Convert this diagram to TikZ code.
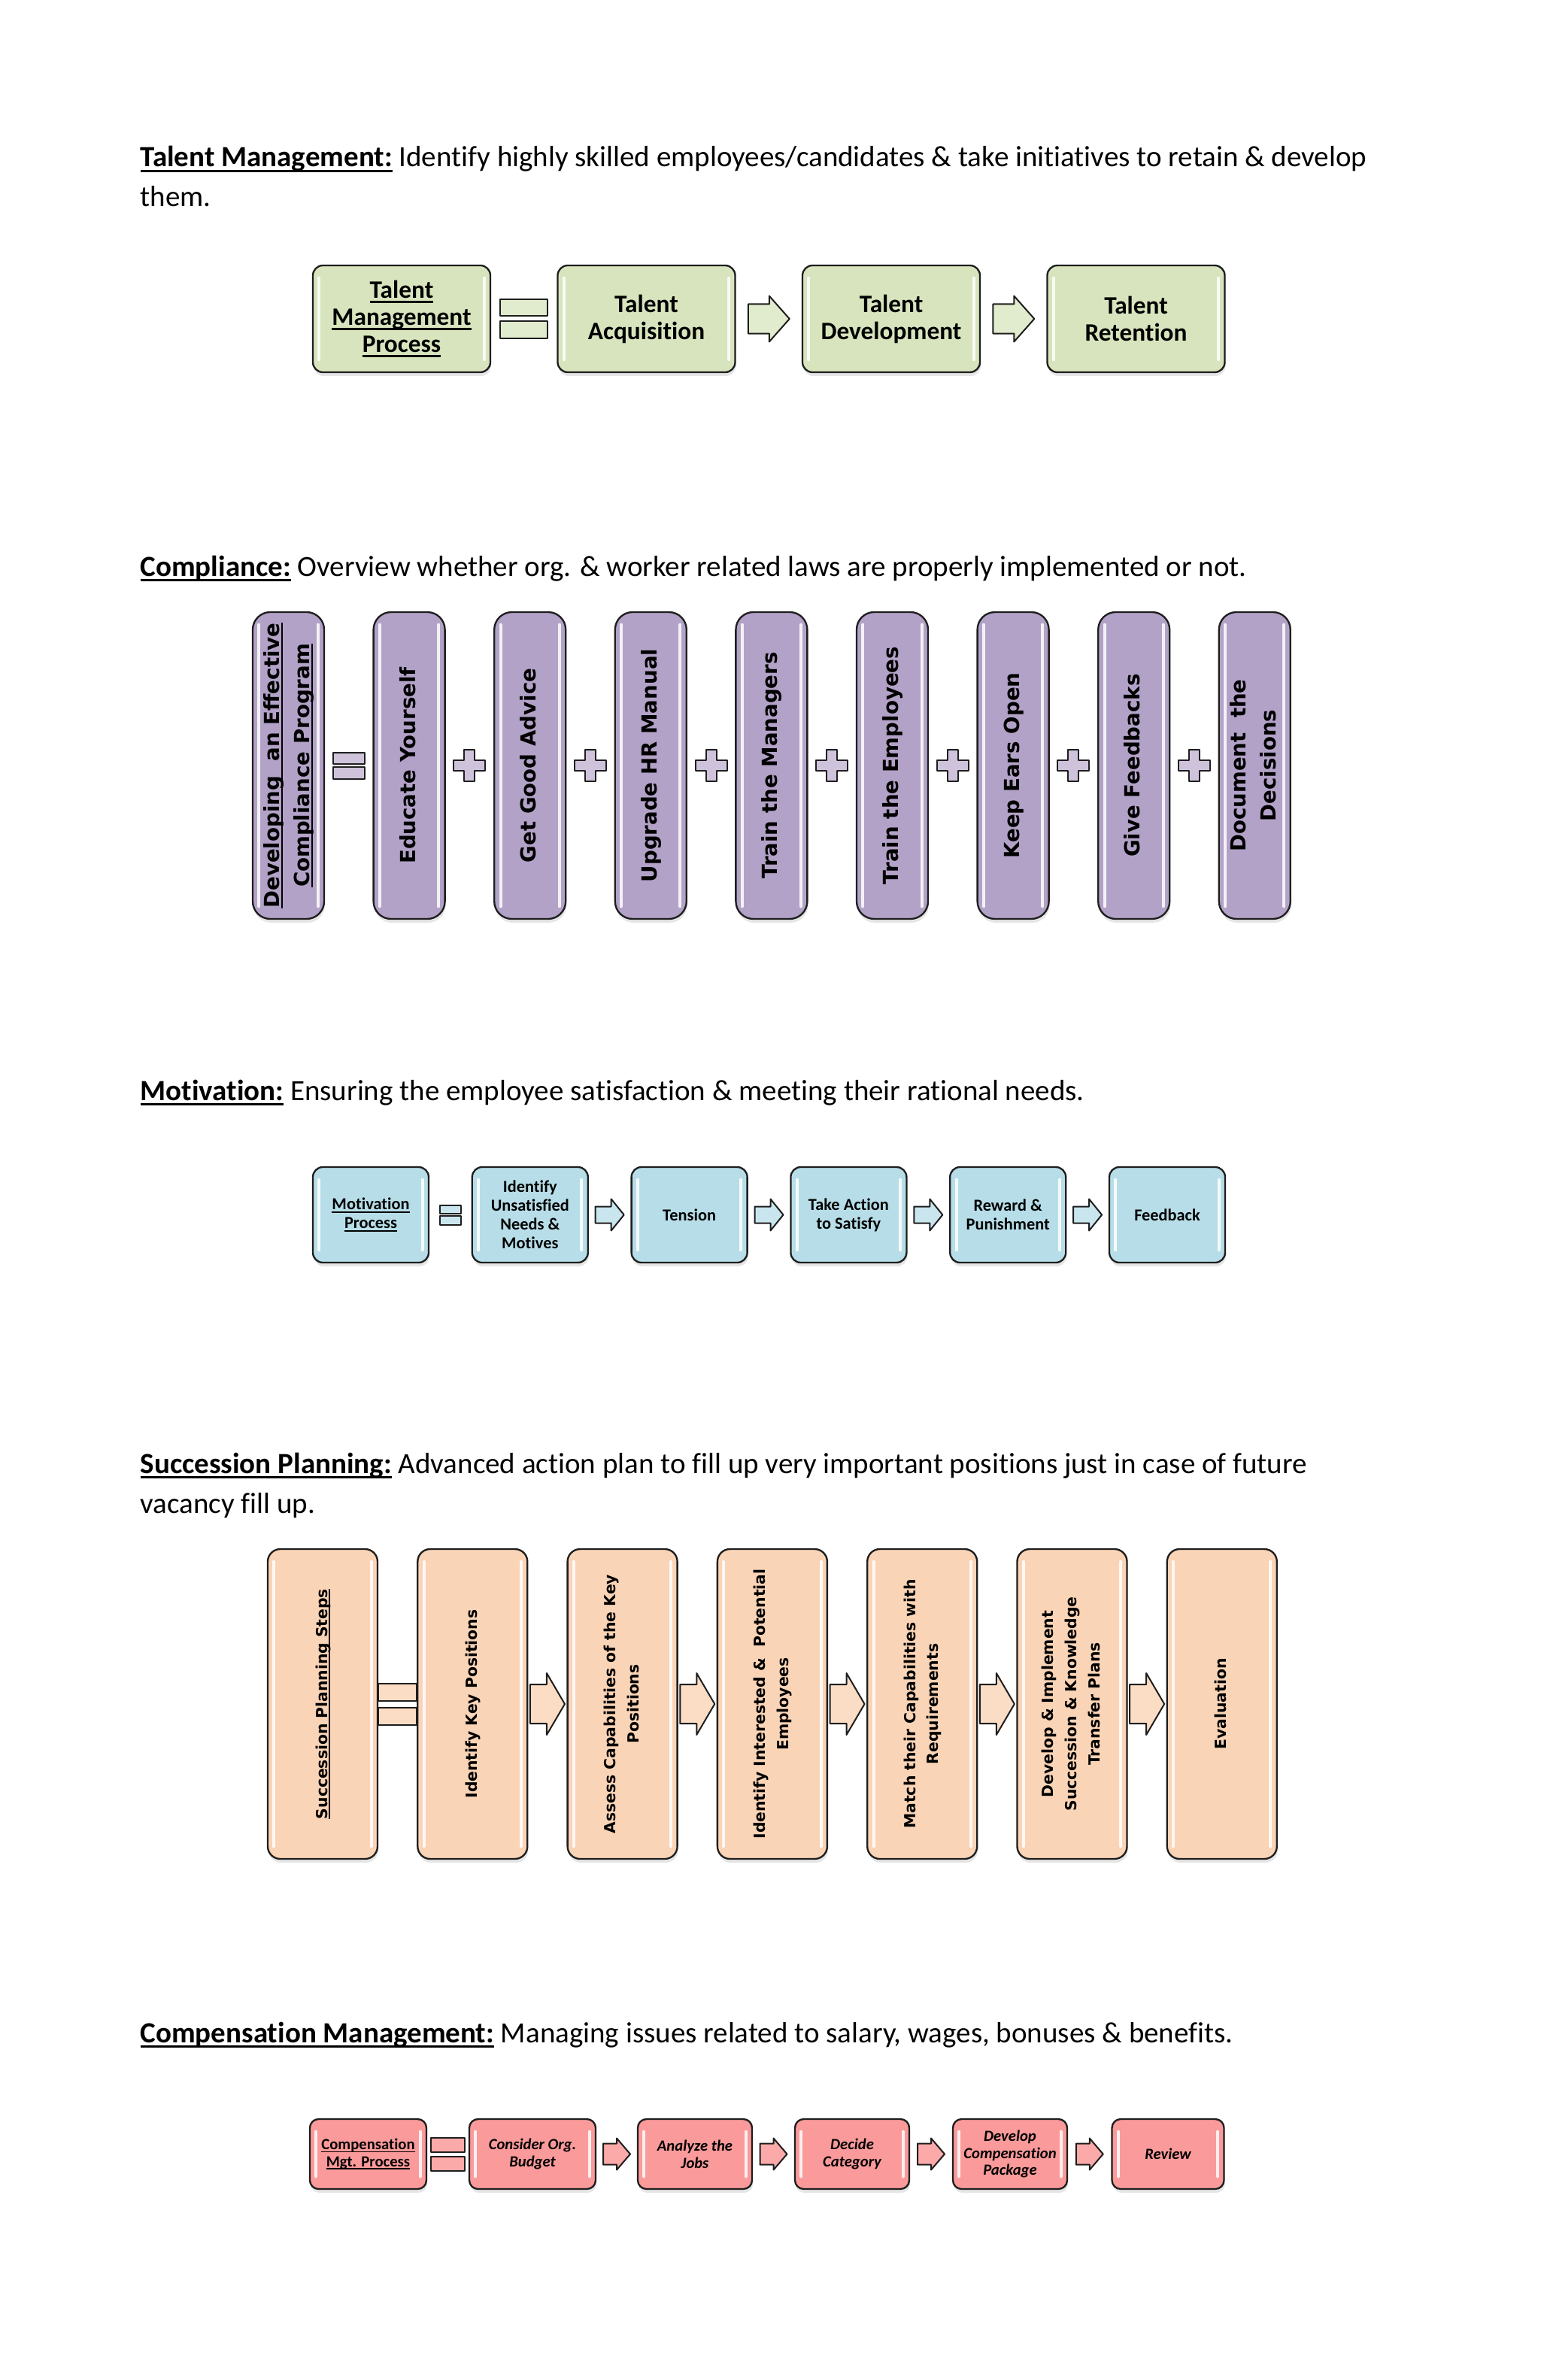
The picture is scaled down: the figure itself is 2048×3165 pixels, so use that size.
\documentclass[tikz,border=0pt]{standalone}
\usepackage{fontspec}
\setmainfont{Carlito}[Ligatures=NoCommon]
\newfontfamily\verdfont{DejaVu Sans}
\usepackage{graphicx}
\usepackage{tikz}
\usetikzlibrary{calc,shadows}

\definecolor{tmgreen}{HTML}{D7E4BD}
\definecolor{cppurple}{HTML}{B3A2C7}
\definecolor{mvblue}{HTML}{B7DEE8}
\definecolor{sppeach}{HTML}{FAD4B6}
\definecolor{cmpink}{HTML}{FA9A9A}
\definecolor{edgegray}{HTML}{1E1E1E}

\newcommand{\ulin}[1]{\setbox0\hbox{#1}\rlap{\rule[-0.17em]{\wd0}{0.07em}}\box0\relax}
\newcommand{\sidetext}[1]{\rotatebox{90}{\begin{tabular}{@{}c@{}}#1\end{tabular}}}

\tikzset{
  headtext/.style={anchor=base west, inner sep=0pt, font=\fontsize{11.7}{14}\selectfont},
  gloss/.style={draw=edgegray, line width=0.7pt, inner sep=0pt, align=center,
    drop shadow={opacity=0.2, shadow xshift=0.3pt, shadow yshift=-1.5pt},
    path picture={
      \draw[white, line width=1.2pt, opacity=0.85, line cap=round]
        ([xshift=2.5pt,yshift=-5pt]path picture bounding box.north west) -- ([xshift=2.5pt,yshift=5pt]path picture bounding box.south west)
        ([xshift=-2.5pt,yshift=-5pt]path picture bounding box.north east) -- ([xshift=-2.5pt,yshift=5pt]path picture bounding box.south east);
    }},
  tmbox/.style={gloss, fill=tmgreen, rounded corners=4pt, minimum width=70.8pt, minimum height=42.6pt,
    font=\fontsize{10}{10.8}\selectfont\bfseries},
  cpbox/.style={gloss, fill=cppurple, rounded corners=7pt, minimum width=28.5pt, minimum height=122.4pt,
    font=\verdfont\bfseries\fontsize{8.3}{12}\selectfont},
  mvbox/.style={gloss, fill=mvblue, rounded corners=4pt, minimum width=46.2pt, minimum height=38.1pt,
    font=\fontsize{6.7}{7.5}\selectfont\bfseries},
  spbox/.style={gloss, fill=sppeach, rounded corners=5pt, minimum width=43.8pt, minimum height=123.6pt,
    font=\verdfont\bfseries\fontsize{6.1}{9.2}\selectfont},
  cmbox/.style={gloss, fill=cmpink, rounded corners=3.5pt, minimum width=45.6pt, minimum height=27.9pt,
    font=\fontsize{6.2}{6.8}\selectfont\bfseries\itshape},
  link/.style={draw=edgegray, line width=0.6pt, line join=round},
  tmlink/.style={link, fill=tmgreen!75!white},
  cplink/.style={link, fill=cppurple!65!white},
  mvlink/.style={link, fill=mvblue!75!white},
  splink/.style={link, fill=sppeach!80!white},
  cmlink/.style={link, fill=cmpink!85!white},
}

\begin{document}
\begin{tikzpicture}[x=0.3pt,y=0.3pt,yscale=-1,xscale=1]
\useasboundingbox (0,0) rectangle (2048,3165);
\fill[white] (0,0) rectangle (2048,3165);

%%%%%%%% Talent Management
% Text Node
\node[headtext] (tmHead) at (186,222) {\ulin{\textbf{Talent Management:}} Identify highly skilled employees/candidates \& take initiatives to retain \& develop};
% Text Node
\node[headtext] (tmHeadB) at (186,275) {them.};
%Shape: Rounded Rect
\node[tmbox] (tm1) at (534,424) {\ulin{Talent}\\\ulin{Management}\\\ulin{Process}};
\node[tmbox] (tm2) at (859.5,424) {Talent\\Acquisition};
\node[tmbox] (tm3) at (1185,424) {Talent\\Development};
\node[tmbox] (tm4) at (1510.5,424) {Talent\\Retention};
%Shape: Equal
\coordinate (tmEq) at ($(tm1.east)!.5!(tm2.west)$);
\draw[tmlink] ($(tmEq)+(-31.5,-25.5)$) rectangle ($(tmEq)+(31.5,-3.5)$);
\draw[tmlink] ($(tmEq)+(-31.5,3.5)$) rectangle ($(tmEq)+(31.5,25.5)$);
%Shape: Right Arrow
\coordinate (tmA1) at ($(tm2.east)!.5!(tm3.west)$);
\draw[tmlink] (tmA1) ++(-27.5,-19.5) -- ++(28,0) -- ++(0,-11) -- ++(27,30.5) -- ++(-27,30.5) -- ++(0,-11) -- ++(-28,0) -- cycle;
\coordinate (tmA2) at ($(tm3.east)!.5!(tm4.west)$);
\draw[tmlink] (tmA2) ++(-27.5,-19.5) -- ++(28,0) -- ++(0,-11) -- ++(27,30.5) -- ++(-27,30.5) -- ++(0,-11) -- ++(-28,0) -- cycle;

%%%%%%%% Compliance
% Text Node
\node[headtext] (cpHead) at (186,766) {\ulin{\textbf{Compliance:}} Overview whether org. \& worker related laws are properly implemented or not.};
%Shape: Rounded Rect
\node[cpbox] (cp1) at (383.5,1018) {\sidetext{\ulin{Developing\ \ an Effective}\\\ulin{Compliance Program}}};
\node[cpbox] (cp2) at (544.1,1018) {\sidetext{Educate Yourself}};
\node[cpbox] (cp3) at (704.7,1018) {\sidetext{Get Good Advice}};
\node[cpbox] (cp4) at (865.3,1018) {\sidetext{Upgrade HR Manual}};
\node[cpbox] (cp5) at (1025.9,1018) {\sidetext{Train the Managers}};
\node[cpbox] (cp6) at (1186.5,1018) {\sidetext{Train the Employees}};
\node[cpbox] (cp7) at (1347.1,1018) {\sidetext{Keep Ears Open}};
\node[cpbox] (cp8) at (1507.7,1018) {\sidetext{Give Feedbacks}};
\node[cpbox] (cp9) at (1668.3,1018) {\sidetext{Document\ \ the\\Decisions}};
%Shape: Equal
\coordinate (cpEq) at ($(cp1.east)!.5!(cp2.west)$);
\draw[cplink] ($(cpEq)+(-21,-17.5)$) rectangle ($(cpEq)+(21,-2)$);
\draw[cplink] ($(cpEq)+(-21,2)$) rectangle ($(cpEq)+(21,17.5)$);
%Shape: Plus
\coordinate (cpP1) at ($(cp2.east)!.5!(cp3.west)$);
\draw[cplink] (cpP1) ++(-7,-21) -- ++(14,0) -- ++(0,14) -- ++(14,0) -- ++(0,14) -- ++(-14,0) -- ++(0,14) -- ++(-14,0) -- ++(0,-14) -- ++(-14,0) -- ++(0,-14) -- ++(14,0) -- cycle;
\coordinate (cpP2) at ($(cp3.east)!.5!(cp4.west)$);
\draw[cplink] (cpP2) ++(-7,-21) -- ++(14,0) -- ++(0,14) -- ++(14,0) -- ++(0,14) -- ++(-14,0) -- ++(0,14) -- ++(-14,0) -- ++(0,-14) -- ++(-14,0) -- ++(0,-14) -- ++(14,0) -- cycle;
\coordinate (cpP3) at ($(cp4.east)!.5!(cp5.west)$);
\draw[cplink] (cpP3) ++(-7,-21) -- ++(14,0) -- ++(0,14) -- ++(14,0) -- ++(0,14) -- ++(-14,0) -- ++(0,14) -- ++(-14,0) -- ++(0,-14) -- ++(-14,0) -- ++(0,-14) -- ++(14,0) -- cycle;
\coordinate (cpP4) at ($(cp5.east)!.5!(cp6.west)$);
\draw[cplink] (cpP4) ++(-7,-21) -- ++(14,0) -- ++(0,14) -- ++(14,0) -- ++(0,14) -- ++(-14,0) -- ++(0,14) -- ++(-14,0) -- ++(0,-14) -- ++(-14,0) -- ++(0,-14) -- ++(14,0) -- cycle;
\coordinate (cpP5) at ($(cp6.east)!.5!(cp7.west)$);
\draw[cplink] (cpP5) ++(-7,-21) -- ++(14,0) -- ++(0,14) -- ++(14,0) -- ++(0,14) -- ++(-14,0) -- ++(0,14) -- ++(-14,0) -- ++(0,-14) -- ++(-14,0) -- ++(0,-14) -- ++(14,0) -- cycle;
\coordinate (cpP6) at ($(cp7.east)!.5!(cp8.west)$);
\draw[cplink] (cpP6) ++(-7,-21) -- ++(14,0) -- ++(0,14) -- ++(14,0) -- ++(0,14) -- ++(-14,0) -- ++(0,14) -- ++(-14,0) -- ++(0,-14) -- ++(-14,0) -- ++(0,-14) -- ++(14,0) -- cycle;
\coordinate (cpP7) at ($(cp8.east)!.5!(cp9.west)$);
\draw[cplink] (cpP7) ++(-7,-21) -- ++(14,0) -- ++(0,14) -- ++(14,0) -- ++(0,14) -- ++(-14,0) -- ++(0,14) -- ++(-14,0) -- ++(0,-14) -- ++(-14,0) -- ++(0,-14) -- ++(14,0) -- cycle;

%%%%%%%% Motivation
% Text Node
\node[headtext] (mvHead) at (186,1463) {\ulin{\textbf{Motivation:}} Ensuring the employee satisfaction \& meeting their rational needs.};
%Shape: Rounded Rect
\node[mvbox] (mv1) at (493,1615.5) {\ulin{Motivation}\\\ulin{Process}};
\node[mvbox] (mv2) at (704.8,1615.5) {Identify\\Unsatisfied\\Needs \&\\Motives};
\node[mvbox] (mv3) at (916.6,1615.5) {Tension};
\node[mvbox] (mv4) at (1128.4,1615.5) {Take Action\\to Satisfy};
\node[mvbox] (mv5) at (1340.2,1615.5) {Reward \&\\Punishment};
\node[mvbox] (mv6) at (1552,1615.5) {Feedback};
%Shape: Equal
\coordinate (mvEq) at ($(mv1.east)!.5!(mv2.west)$);
\draw[mvlink] ($(mvEq)+(-14,-13)$) rectangle ($(mvEq)+(14,-1.5)$);
\draw[mvlink] ($(mvEq)+(-14,1.5)$) rectangle ($(mvEq)+(14,13)$);
%Shape: Right Arrow
\coordinate (mvA1) at ($(mv2.east)!.5!(mv3.west)$);
\draw[mvlink] (mvA1) ++(-19,-11) -- ++(21,0) -- ++(0,-10) -- ++(17,21) -- ++(-17,21) -- ++(0,-10) -- ++(-21,0) -- cycle;
\coordinate (mvA2) at ($(mv3.east)!.5!(mv4.west)$);
\draw[mvlink] (mvA2) ++(-19,-11) -- ++(21,0) -- ++(0,-10) -- ++(17,21) -- ++(-17,21) -- ++(0,-10) -- ++(-21,0) -- cycle;
\coordinate (mvA3) at ($(mv4.east)!.5!(mv5.west)$);
\draw[mvlink] (mvA3) ++(-19,-11) -- ++(21,0) -- ++(0,-10) -- ++(17,21) -- ++(-17,21) -- ++(0,-10) -- ++(-21,0) -- cycle;
\coordinate (mvA4) at ($(mv5.east)!.5!(mv6.west)$);
\draw[mvlink] (mvA4) ++(-19,-11) -- ++(21,0) -- ++(0,-10) -- ++(17,21) -- ++(-17,21) -- ++(0,-10) -- ++(-21,0) -- cycle;

%%%%%%%% Succession Planning
% Text Node
\node[headtext] (spHead) at (186,1959) {\ulin{\textbf{Succession Planning:}} Advanced action plan to fill up very important positions just in case of future};
% Text Node
\node[headtext] (spHeadB) at (186,2012) {vacancy fill up.};
%Shape: Rounded Rect
\node[spbox] (sp1) at (429,2266) {\sidetext{\ulin{Succession Planning Steps}}};
\node[spbox] (sp2) at (628.3,2266) {\sidetext{Identify Key Positions}};
\node[spbox] (sp3) at (827.6,2266) {\sidetext{Assess Capabilities of the Key\\Positions}};
\node[spbox] (sp4) at (1026.9,2266) {\sidetext{Identify Interested \&\ \ Potential\\Employees}};
\node[spbox] (sp5) at (1226.2,2266) {\sidetext{Match their Capabilities with\\Requirements}};
\node[spbox] (sp6) at (1425.5,2266) {\sidetext{Develop \& Implement\\Succession \& Knowledge\\Transfer Plans}};
\node[spbox] (sp7) at (1624.8,2266) {\sidetext{Evaluation}};
%Shape: Equal
\draw[splink] ($(sp1.east)+(0,-27.5)$) rectangle ($(sp2.west)+(0,-4.5)$);
\draw[splink] ($(sp1.east)+(0,4.5)$) rectangle ($(sp2.west)+(0,27.5)$);
%Shape: Right Arrow
\coordinate (spA1) at ($(sp2.east)!.5!(sp3.west)$);
\draw[splink] (spA1) ++(-23,-26) -- ++(22,0) -- ++(0,-15) -- ++(24,41) -- ++(-24,41) -- ++(0,-15) -- ++(-22,0) -- cycle;
\coordinate (spA2) at ($(sp3.east)!.5!(sp4.west)$);
\draw[splink] (spA2) ++(-23,-26) -- ++(22,0) -- ++(0,-15) -- ++(24,41) -- ++(-24,41) -- ++(0,-15) -- ++(-22,0) -- cycle;
\coordinate (spA3) at ($(sp4.east)!.5!(sp5.west)$);
\draw[splink] (spA3) ++(-23,-26) -- ++(22,0) -- ++(0,-15) -- ++(24,41) -- ++(-24,41) -- ++(0,-15) -- ++(-22,0) -- cycle;
\coordinate (spA4) at ($(sp5.east)!.5!(sp6.west)$);
\draw[splink] (spA4) ++(-23,-26) -- ++(22,0) -- ++(0,-15) -- ++(24,41) -- ++(-24,41) -- ++(0,-15) -- ++(-22,0) -- cycle;
\coordinate (spA5) at ($(sp6.east)!.5!(sp7.west)$);
\draw[splink] (spA5) ++(-23,-26) -- ++(22,0) -- ++(0,-15) -- ++(24,41) -- ++(-24,41) -- ++(0,-15) -- ++(-22,0) -- cycle;

%%%%%%%% Compensation Management
% Text Node
\node[headtext] (cmHead) at (186,2716) {\ulin{\textbf{Compensation Management:}} Managing issues related to salary, wages, bonuses \& benefits.};
%Shape: Rounded Rect
\node[cmbox, minimum width=46.5pt, font=\fontsize{6.2}{6.8}\selectfont\bfseries] (cm1) at (489.5,2864.5) {\ulin{Compensation}\\\ulin{Mgt. Process}};
\node[cmbox, minimum width=50.4pt] (cm2) at (708,2864.5) {Consider Org.\\Budget};
\node[cmbox] (cm3) at (924,2864.5) {Analyze the\\Jobs};
\node[cmbox] (cm4) at (1133,2864.5) {Decide\\Category};
\node[cmbox] (cm5) at (1343,2864.5) {Develop\\Compensation\\Package};
\node[cmbox, minimum width=44.7pt] (cm6) at (1553,2864.5) {Review};
%Shape: Equal
\coordinate (cmEq) at ($(cm1.east)!.5!(cm2.west)$);
\draw[cmlink] ($(cmEq)+(-22.5,-21.5)$) rectangle ($(cmEq)+(22.5,-2.5)$);
\draw[cmlink] ($(cmEq)+(-22.5,3.5)$) rectangle ($(cmEq)+(22.5,22.5)$);
%Shape: Right Arrow
\coordinate (cmA1) at ($(cm2.east)!.5!(cm3.west)$);
\draw[cmlink] (cmA1) ++(-18,-14) -- ++(18,0) -- ++(0,-7) -- ++(18,21) -- ++(-18,21) -- ++(0,-7) -- ++(-18,0) -- cycle;
\coordinate (cmA2) at ($(cm3.east)!.5!(cm4.west)$);
\draw[cmlink] (cmA2) ++(-18,-14) -- ++(18,0) -- ++(0,-7) -- ++(18,21) -- ++(-18,21) -- ++(0,-7) -- ++(-18,0) -- cycle;
\coordinate (cmA3) at ($(cm4.east)!.5!(cm5.west)$);
\draw[cmlink] (cmA3) ++(-18,-14) -- ++(18,0) -- ++(0,-7) -- ++(18,21) -- ++(-18,21) -- ++(0,-7) -- ++(-18,0) -- cycle;
\coordinate (cmA4) at ($(cm5.east)!.5!(cm6.west)$);
\draw[cmlink] (cmA4) ++(-18,-14) -- ++(18,0) -- ++(0,-7) -- ++(18,21) -- ++(-18,21) -- ++(0,-7) -- ++(-18,0) -- cycle;

\end{tikzpicture}
\end{document}
